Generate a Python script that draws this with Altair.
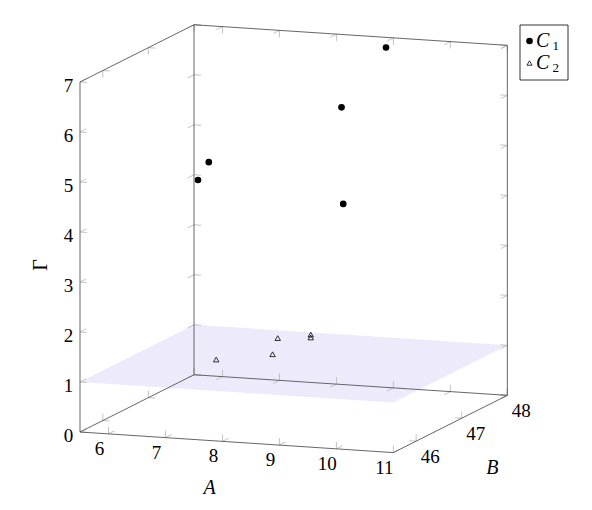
import altair as alt
import numpy as np
import pandas as pd

# ---------------- data ----------------
class_names = ["C₁", "C₂"]
class_letters = ["C", "C"]
class_subs = ["1", "2"]
c1_A = [5.97, 6.16, 9.03, 8.89, 9.32]
c1_B = [47.5, 47.5, 47.8, 47.0, 46.5]
c1_G = [4.16, 4.53, 6.90, 6.06, 4.39]
c2_A = [7.09, 7.77, 8.08, 8.19, 8.51]
c2_B = [46.5, 47.0, 46.5, 47.2, 46.8]
c2_G = [1.11, 1.36, 1.29, 1.37, 1.52]
plane_G = 1.0

A_ticks = [6, 7, 8, 9, 10, 11]
B_ticks = [46, 47, 48]
G_ticks = [0, 1, 2, 3, 4, 5, 6, 7]
A_lim = [5.5, 11.0]
B_lim = [45.5, 48.0]
G_lim = [0.0, 7.0]

# ---------------- 3-D view (oblique projection onto the canvas) ----------------
W, H = 576, 494
ORIGIN = (72.0, 424.0)            # screen position of (A_min, B_min, 0)
UA = (56.97, 3.745)               # screen step per unit of A
UB = (45.6, -22.9)                # screen step per unit of B
UG = (0.0, -50.0)                 # screen step per unit of Gamma


def proj(a, b, g):
    a = np.asarray(a, float) - A_lim[0]
    b = np.asarray(b, float) - B_lim[0]
    g = np.asarray(g, float) - G_lim[0]
    x = ORIGIN[0] + a * UA[0] + b * UB[0] + g * UG[0]
    y = ORIGIN[1] + a * UA[1] + b * UB[1] + g * UG[1]
    return x, y


xs = alt.Scale(domain=[0, W], nice=False, zero=False)
ys = alt.Scale(domain=[0, H], nice=False, zero=False, reverse=True)
X = lambda f="x:Q": alt.X(f, scale=xs, axis=None)
Y = lambda f="y:Q": alt.Y(f, scale=ys, axis=None)

# ---------------- plane Gamma = 1 ----------------
p00 = proj(A_lim[0], B_lim[0], plane_G)
p01 = proj(A_lim[0], B_lim[1], plane_G)
p11 = proj(A_lim[1], B_lim[1], plane_G)
p10 = proj(A_lim[1], B_lim[0], plane_G)
bx = sorted([float(p00[0]), float(p01[0]), float(p10[0]), float(p11[0])])
upper = np.interp(bx, [p00[0], p01[0], p11[0]], [p00[1], p01[1], p11[1]])
lower = np.interp(bx, [p00[0], p10[0], p11[0]], [p00[1], p10[1], p11[1]])
plane_df = pd.DataFrame({"x": bx, "y": upper, "y2": lower})
plane = alt.Chart(plane_df).mark_area(
    orient="vertical", color="#ebe8fc", opacity=0.9, strokeWidth=0
).encode(x=X(), y=Y(), y2="y2:Q")

# ---------------- box edges and ticks ----------------
a0, a1 = A_lim
b0, b1 = B_lim
g0, g1 = G_lim
edges3d = [
    ((a0, b0, g0), (a1, b0, g0)),
    ((a0, b1, g0), (a1, b1, g0)),
    ((a0, b1, g1), (a1, b1, g1)),
    ((a1, b0, g0), (a1, b1, g0)),
    ((a0, b0, g0), (a0, b1, g0)),
    ((a0, b0, g1), (a0, b1, g1)),
    ((a0, b0, g0), (a0, b0, g1)),
    ((a0, b1, g0), (a0, b1, g1)),
    ((a1, b1, g0), (a1, b1, g1)),
]
er = []
for s, e in edges3d:
    x1, y1 = proj(*s)
    x2, y2 = proj(*e)
    er.append({"x": float(x1), "y": float(y1), "x2": float(x2), "y2": float(y2)})
edges = alt.Chart(pd.DataFrame(er)).mark_rule(color="#555555", strokeWidth=0.9).encode(
    x=X(), y=Y(), x2="x2:Q", y2="y2:Q"
)

TL = 7.0
dA = TL / np.hypot(*UA)
dB = TL / np.hypot(*UB)
dG = TL / abs(UG[1])
tick_specs = [
    ("A", {"B": b0, "G": g0}, [("B", +dB), ("G", +dG)]),
    ("A", {"B": b1, "G": g0}, [("B", -dB), ("G", +dG)]),
    ("A", {"B": b1, "G": g1}, [("B", -dB), ("G", -dG)]),
    ("B", {"A": a1, "G": g0}, [("A", -dA), ("G", +dG)]),
    ("B", {"A": a0, "G": g0}, [("A", +dA), ("G", +dG)]),
    ("B", {"A": a0, "G": g1}, [("A", +dA), ("G", -dG)]),
    ("G", {"A": a0, "B": b0}, [("A", +dA), ("B", +dB)]),
    ("G", {"A": a0, "B": b1}, [("A", +dA), ("B", -dB)]),
    ("G", {"A": a1, "B": b1}, [("A", -dA), ("B", -dB)]),
]
tick_vals = {"A": A_ticks, "B": B_ticks, "G": G_ticks}
tr = []
for ax, fixed, dirs in tick_specs:
    for v in tick_vals[ax]:
        p = dict(fixed)
        p[ax] = v
        x1, y1 = proj(p["A"], p["B"], p["G"])
        for dax, dl in dirs:
            q = dict(p)
            q[dax] = q[dax] + dl
            x2, y2 = proj(q["A"], q["B"], q["G"])
            tr.append({"x": float(x1), "y": float(y1), "x2": float(x2), "y2": float(y2)})
ticks = alt.Chart(pd.DataFrame(tr)).mark_rule(color="#b4b4b4", strokeWidth=0.8).encode(
    x=X(), y=Y(), x2="x2:Q", y2="y2:Q"
)

# ---------------- tick labels ----------------
FONT = "Liberation Serif"
FS = 19
ax_, ay_ = proj(A_ticks, [b0] * len(A_ticks), [g0] * len(A_ticks))
bx_, by_ = proj([a1] * len(B_ticks), B_ticks, [g0] * len(B_ticks))
gx_, gy_ = proj([a0] * len(G_ticks), [b0] * len(G_ticks), G_ticks)


def label_layer(xv, yv, texts, dx, dy):
    df = pd.DataFrame({"x": xv, "y": yv, "t": [str(t) for t in texts]})
    return alt.Chart(df).mark_text(
        font=FONT, fontSize=FS, color="black", align="center",
        baseline="alphabetic", dx=dx, dy=dy,
    ).encode(x=X(), y=Y(), text="t:N")


lab_A = label_layer(ax_, ay_, A_ticks, -9, 21)
lab_B = label_layer(bx_, by_, B_ticks, 14, 22)
lab_G = label_layer(gx_, gy_, G_ticks, -11.5, 9.5)

# axis titles, placed relative to the middle of their edges
mA = proj(np.mean(A_lim), b0, g0)
mB = proj(a1, np.mean(B_lim), g0)
mG = proj(a0, b0, np.mean(G_lim))
title_A = alt.Chart(pd.DataFrame({"x": [float(mA[0])], "y": [float(mA[1])], "t": ["A"]})).mark_text(
    font=FONT, fontSize=20, fontStyle="italic", dx=-27, dy=46, baseline="middle"
).encode(x=X(), y=Y(), text="t:N")
title_B = alt.Chart(pd.DataFrame({"x": [float(mB[0])], "y": [float(mB[1])], "t": ["B"]})).mark_text(
    font=FONT, fontSize=20, fontStyle="italic", dx=42, dy=44, baseline="middle"
).encode(x=X(), y=Y(), text="t:N")
# rotated text: dx/dy act in the rotated frame
title_G = alt.Chart(pd.DataFrame({"x": [float(mG[0])], "y": [float(mG[1])], "t": ["Γ"]})).mark_text(
    font=FONT, fontSize=20, angle=270, dx=-8, dy=-39, baseline="middle", align="center"
).encode(x=X(), y=Y(), text="t:N")

# ---------------- scatter points ----------------
px1, py1 = proj(c1_A, c1_B, c1_G)
px2, py2 = proj(c2_A, c2_B, c2_G)
c1_pts = alt.Chart(pd.DataFrame({"x": px1, "y": py1})).mark_point(
    shape="circle", filled=True, color="black", size=44, opacity=1
).encode(x=X(), y=Y())
c2_pts = alt.Chart(pd.DataFrame({"x": px2, "y": py2})).mark_point(
    shape="triangle-up", filled=False, color="black", strokeWidth=0.8, size=30, opacity=1
).encode(x=X(), y=Y())

# ---------------- legend (drawn by hand, top right) ----------------
LX, LY, LW, LH = 512, 17, 48, 55
leg_box = alt.Chart(pd.DataFrame({"x": [LX], "x2": [LX + LW], "y": [LY], "y2": [LY + LH]})).mark_rect(
    fill="white", stroke="black", strokeWidth=0.8
).encode(x=X(), x2="x2:Q", y=Y(), y2="y2:Q")
rows = pd.DataFrame({
    "name": class_names,
    "letter": class_letters,
    "sub": class_subs,
    "sx": [LX + 9.5] * 2,
    "tx": [LX + 16.0] * 2,
    "ux": [LX + 32.5] * 2,
    "y": [LY + 16.0, LY + 38.0],
})
leg_c1 = alt.Chart(rows.iloc[[0]]).mark_point(
    shape="circle", filled=True, color="black", size=44, opacity=1
).encode(x=X("sx:Q"), y=Y())
leg_c2 = alt.Chart(rows.iloc[[1]]).mark_point(
    shape="triangle-up", filled=False, color="black", strokeWidth=0.8, size=26, opacity=1
).encode(x=X("sx:Q"), y=Y())
leg_letter = alt.Chart(rows).mark_text(
    font=FONT, fontSize=20, fontStyle="italic", align="left", baseline="middle", color="black"
).encode(x=X("tx:Q"), y=Y(), text="letter:N")
leg_sub = alt.Chart(rows).mark_text(
    font=FONT, fontSize=13, align="left", baseline="middle", dy=5, color="black"
).encode(x=X("ux:Q"), y=Y(), text="sub:N")

chart = alt.layer(
    plane, ticks, edges, c1_pts, c2_pts, lab_A, lab_B, lab_G, title_A, title_B, title_G,
    leg_box, leg_c1, leg_c2, leg_letter, leg_sub,
).properties(
    width=W, height=H, padding=0, autosize="none"
).configure_view(stroke=None)

chart.save("out.html", embed_options={"renderer": "svg", "actions": False})
